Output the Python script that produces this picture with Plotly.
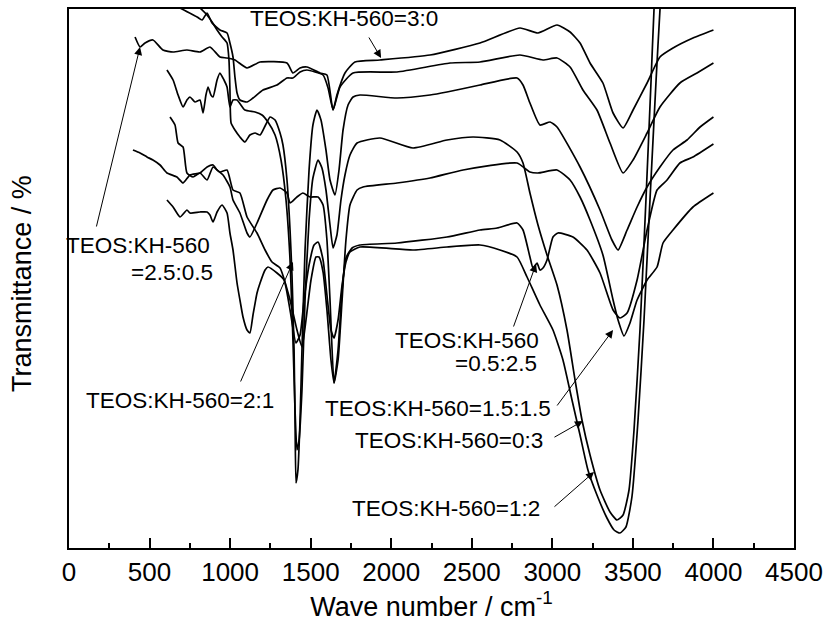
import plotly.graph_objects as go

# ---------------- data (wave number / cm-1, transmittance / %) ----------------
wn_3_0 = [689, 795, 826, 857, 888, 937, 981, 999, 1018, 1030, 1043, 1061, 1105, 1142, 1204, 1291, 1353, 1390,
          1434, 1477, 1527, 1577, 1608, 1639, 1663, 1713, 1775, 1930, 2241, 2551, 2799, 2911, 3029, 3110,
          3172, 3234, 3314, 3377, 3439, 3501, 3588, 3668, 3749, 3873, 4000]
t_3_0 = [108, 106.2, 105.6, 107, 105, 103.6, 103, 101, 98.2, 94.2, 91, 89.6, 89.2, 90, 91.6, 92.6, 94, 94,
         95.2, 95.6, 95.2, 94.6, 92, 87.6, 90.6, 95, 97.2, 97.6, 98.6, 101, 104, 103, 104.6, 103.2,
         101, 97, 93, 87, 84, 87.6, 93, 98.2, 100, 102, 103.6]

wn_25_05 = [410, 441, 472, 521, 583, 646, 732, 813, 875, 937, 981, 1030, 1105, 1186, 1353, 1390, 1434, 1477,
            1558, 1601, 1639, 1682, 1763, 2036, 2365, 2551, 2799, 2942, 3029, 3110, 3190, 3277, 3358, 3439,
            3501, 3588, 3668, 3792, 3898, 4000]
t_25_05 = [102.2, 100.2, 101, 101.6, 99.6, 99.2, 99.6, 99.2, 100.2, 98.2, 98, 97.6, 96, 97.2, 97, 95, 96, 96.2,
           95, 94.6, 87.6, 92.2, 95, 95.2, 97, 97.2, 98.6, 97.6, 98, 96.2, 91.6, 87.6, 81, 75,
           77.6, 83, 88.2, 93, 95, 97]

wn_2_1 = [795, 857, 888, 919, 950, 981, 993, 999, 1006, 1030, 1061, 1092, 1123, 1155, 1186, 1217, 1248, 1279,
          1310, 1328, 1353, 1372, 1384, 1397, 1403, 1409, 1421, 1434, 1446, 1465, 1490, 1514, 1539, 1564,
          1595, 1620, 1651, 1676, 1701, 1732, 1763, 1806, 2036, 2241, 2346, 2551, 2781, 2818, 2861, 2923,
          2986, 3029, 3172, 3296, 3370, 3408, 3464, 3526, 3588, 3668, 3749, 3836, 3917, 4000]
t_2_1 = [108.6, 106.6, 105.2, 103.6, 102.2, 101, 97.6, 91.6, 85, 83.6, 82.2, 81.2, 82.6, 83, 82.6, 84.4, 86.2, 85.6,
         83, 80.6, 73.6, 63.6, 54.6, 39.6, 25.6, 13, 15.6, 25.6, 39.6, 59.6, 75.6, 84.6, 87.6, 85.6,
         79.6, 73.6, 70.6, 75.6, 83.6, 88.6, 90.2, 90.6, 90, 90.6, 91.2, 92.6, 94, 92.6, 89, 84.6,
         85.2, 84.2, 76.2, 67.6, 61.6, 59.6, 63.6, 68.2, 72.2, 76.2, 79.6, 81.6, 84.2, 86.2]

wn_15_15 = [627, 658, 677, 708, 732, 770, 813, 857, 894, 937, 981, 1018, 1061, 1105, 1167, 1217, 1260, 1310,
            1372, 1415, 1446, 1471, 1502, 1533, 1552, 1577, 1601, 1626, 1645, 1670, 1695, 1719, 1744, 1788,
            1825, 2036, 2241, 2446, 2781, 2861, 2911, 3029, 3110, 3172, 3234, 3314, 3377, 3408, 3445, 3482,
            3526, 3588, 3650, 3687, 3749, 3873, 4000]
t_15_15 = [86.2, 84.6, 81, 80.2, 75, 74.2, 75, 73.6, 76.2, 75.2, 75.6, 71.6, 71, 66.2, 63, 59.6, 57.2, 56,
           49.6, 43.6, 40.2, 45.6, 53.6, 58.2, 58.2, 55.2, 47.6, 37.6, 33, 37.6, 49.6, 61.6, 68.6, 71.6,
           72.2, 73, 74, 75.6, 77, 75.2, 75, 75.6, 73.6, 70.2, 65.6, 58.6, 49.6, 45.6, 42.4, 45,
           49.6, 53.6, 56.2, 61, 63.6, 68.2, 71]

wn_0_3 = [608, 646, 677, 708, 732, 751, 782, 813, 832, 850, 863, 881, 894, 919, 937, 962, 981, 999, 1018, 1043,
          1092, 1155, 1198, 1235, 1279, 1316, 1347, 1372, 1390, 1403, 1415, 1428, 1446, 1465, 1490, 1514,
          1546, 1570, 1595, 1620, 1639, 1663, 1688, 1713, 1744, 1788, 1930, 2135, 2346, 2508, 2675, 2781,
          2818, 2861, 2911, 2967, 3029, 3091, 3141, 3184, 3234, 3296, 3358, 3401, 3439, 3476, 3507, 3544,
          3581, 3613, 3631, 3644]
t_0_3 = [95.6, 93.6, 90.6, 88.2, 89.6, 90.2, 89.2, 89.6, 87, 90.6, 92.2, 90.6, 90.2, 93.6, 95, 93.6, 92.2, 88.2,
         89.6, 89.6, 87.6, 87.2, 86.6, 85.2, 82.6, 77.6, 69.6, 57.6, 41.6, 27.6, 19.6, 21.6, 31.6, 49.6,
         65.6, 74, 77.6, 76, 71.6, 64.6, 60, 62.6, 69.6, 74.6, 78.6, 81, 82, 80, 81.6, 82.2, 81.6, 79.2,
         77, 71, 64.6, 58.6, 52.6, 43.6, 33.6, 25.6, 18.6, 11.6, 7.2, 5.6, 6.6, 11.6, 23.6, 43.6,
         69.6, 93.6, 107.6, 113.6]

wn_1_2 = [608, 646, 689, 732, 751, 813, 857, 875, 894, 919, 950, 981, 999, 1018, 1043, 1061, 1080, 1105, 1123,
          1142, 1167, 1186, 1217, 1235, 1291, 1335, 1372, 1409, 1434, 1459, 1490, 1521, 1546, 1577, 1601,
          1626, 1645, 1670, 1695, 1719, 1744, 1806, 2135, 2346, 2551, 2675, 2781, 2843, 2923, 3004, 3066,
          3122, 3172, 3221, 3277, 3339, 3383, 3420, 3457, 3494, 3532, 3569, 3606, 3644, 3668, 3681]
t_1_2 = [69.6, 68.2, 66.2, 67.6, 67, 67.2, 67.2, 66.6, 65.2, 67.2, 68.6, 67, 63, 59.6, 53, 49.6, 46.2, 43.6, 43,
         46.6, 51, 53, 55.6, 56.2, 55, 53.6, 47.6, 41, 42.6, 49.6, 56.6, 60.6, 61.2, 57.6, 50.6,
         43.6, 42, 45.6, 52.6, 57.2, 59.2, 60.2, 59.6, 60.2, 60.6, 59.6, 58.2, 54.2, 48.6, 43.6, 37.6,
         29.6, 22.6, 15.6, 10.6, 6, 3.6, 3, 4.2, 10.2, 25.6, 45.6, 69.6, 93.6, 107.6, 113.6]

wn_05_25 = [397, 441, 484, 521, 565, 608, 670, 708, 751, 813, 857, 894, 919, 956, 999, 1018, 1061, 1105, 1123,
            1167, 1229, 1266, 1310, 1353, 1372, 1415, 1452, 1496, 1546, 1577, 1601, 1620, 1645, 1670, 1695,
            1719, 1757, 1806, 2036, 2346, 2551, 2657, 2781, 2818, 2861, 2880, 2905, 2923, 2942, 2967, 3004,
            3035, 3128, 3215, 3296, 3377, 3420, 3464, 3526, 3588, 3650, 3712, 3792, 3873, 4000]
t_05_25 = [79.6, 79, 78.2, 77.6, 76.6, 75, 74.2, 73, 74.6, 75, 76.2, 76.6, 75.6, 74.6, 72.2, 69.6, 67, 63, 62.2,
           65, 69.6, 71.6, 72, 71, 69, 70.2, 71, 70.2, 70.2, 68.6, 61.6, 49.6, 33, 39.6, 51.6,
           58, 60, 60.6, 61, 62.2, 63.6, 64, 65, 63.6, 58.2, 56, 57, 55.6, 56, 57.6, 62.2,
           63, 62.2, 59.6, 55, 47.6, 46, 47, 53.6, 63.6, 71.6, 73.6, 77, 78.2, 80.8]

series = [
    ("TEOS:KH-560=3:0", wn_3_0, t_3_0),
    ("TEOS:KH-560=2.5:0.5", wn_25_05, t_25_05),
    ("TEOS:KH-560=2:1", wn_2_1, t_2_1),
    ("TEOS:KH-560=1.5:1.5", wn_15_15, t_15_15),
    ("TEOS:KH-560=1:2", wn_1_2, t_1_2),
    ("TEOS:KH-560=0.5:2.5", wn_05_25, t_05_25),
    ("TEOS:KH-560=0:3", wn_0_3, t_0_3),
]

# label texts with (text center x, y) and arrow (tail x, y) -> (tip x, y), in data units
label_texts = ["TEOS:KH-560=3:0", "TEOS:KH-560", "=2.5:0.5", "TEOS:KH-560=2:1", "TEOS:KH-560", "=0.5:2.5",
               "TEOS:KH-560=1.5:1.5", "TEOS:KH-560=0:3", "TEOS:KH-560=1:2"]
label_x = [1707, 430, 642, 692, 2470, 2653, 2293, 2356, 2343]
label_y = [106, 60.6, 55.2, 29.6, 41.6, 37, 28, 21.6, 8]

arrow_tail_x = [1856, 168, 1061, 2756, 3023, 3004, 3004]
arrow_tail_y = [102.4, 64, 33, 44, 28.2, 22, 8]
arrow_tip_x = [1937, 441, 1390, 2899, 3377, 3190, 3259]
arrow_tip_y = [98, 100.2, 57.2, 56.8, 43.6, 25.4, 15.2]

x_ticks = [0, 500, 1000, 1500, 2000, 2500, 3000, 3500, 4000, 4500]

FONT = "Liberation Sans, Arial, sans-serif"

fig = go.Figure()
for name, xs, ys in series:
    fig.add_trace(go.Scatter(x=xs, y=ys, mode="lines", name=name,
                             line=dict(color="black", width=1.7, shape="spline", smoothing=0.5),
                             showlegend=False))

for txt, lx, ly in zip(label_texts, label_x, label_y):
    fig.add_annotation(x=lx, y=ly, xref="x", yref="y", text=txt, showarrow=False,
                       font=dict(family=FONT, size=22.5, color="black"),
                       xanchor="center", yanchor="middle")

for tx, ty, hx, hy in zip(arrow_tail_x, arrow_tail_y, arrow_tip_x, arrow_tip_y):
    fig.add_annotation(x=hx, y=hy, ax=tx, ay=ty, xref="x", yref="y", axref="x", ayref="y",
                       text="", showarrow=True, arrowhead=2, arrowsize=1.6, arrowwidth=1,
                       arrowcolor="black", standoff=0, startstandoff=0)

fig.update_xaxes(range=[0, 4500], tickvals=x_ticks, ticks="inside", ticklen=10, tickwidth=1.5,
                 tickcolor="black", showline=True, linecolor="black", linewidth=2, mirror=True,
                 showgrid=False, zeroline=False,
                 minor=dict(ticks="inside", ticklen=5, tickwidth=1.5, tickcolor="black", dtick=250, showgrid=False),
                 tickfont=dict(family=FONT, size=26, color="black"),
                 title=dict(text="Wave number / cm<sup>-1</sup>", font=dict(family=FONT, size=27, color="black"),
                            standoff=10),
                 automargin=False)
fig.update_yaxes(range=[0, 107.8], showticklabels=False, ticks="", showline=True, linecolor="black",
                 linewidth=2, mirror=True, showgrid=False, zeroline=False, automargin=False)

fig.add_annotation(x=-47 / 725, y=0.49, xref="paper", yref="paper", text="Transmittance / %",
                   textangle=-90, showarrow=False, font=dict(family=FONT, size=27, color="black"),
                   xanchor="center", yanchor="middle")

fig.update_layout(width=827, height=635, margin=dict(l=69, r=33, t=9, b=87),
                  plot_bgcolor="white", paper_bgcolor="white")

fig.write_html("out.html")
